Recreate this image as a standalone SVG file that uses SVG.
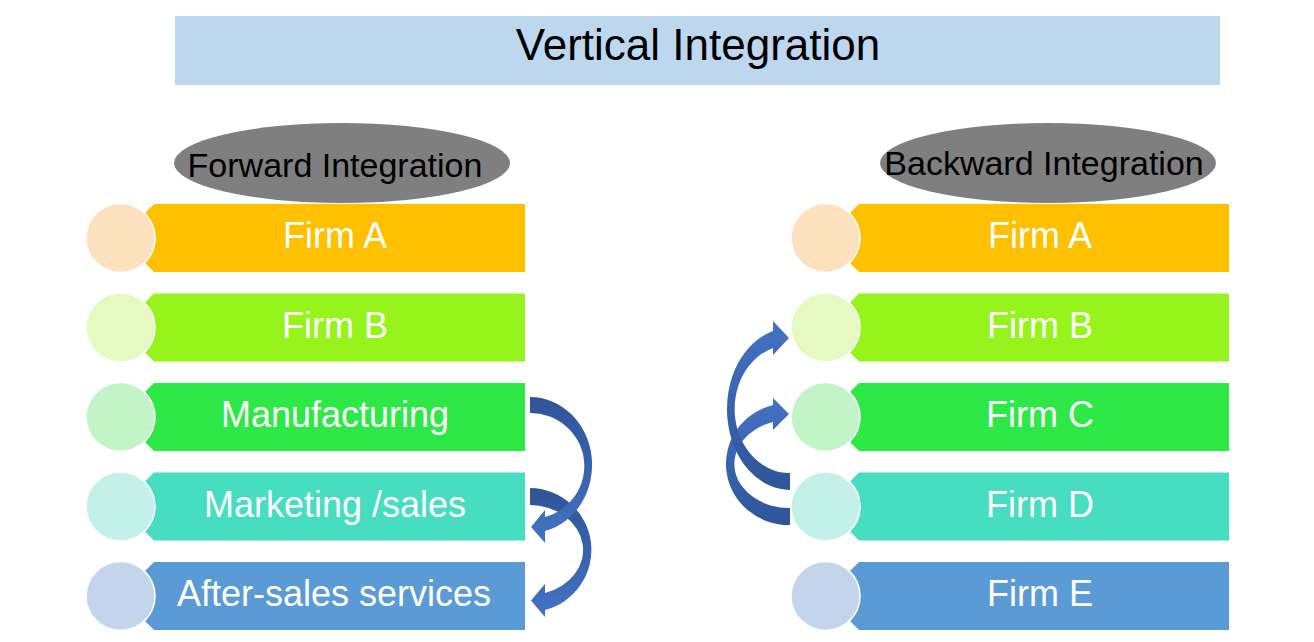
<svg xmlns="http://www.w3.org/2000/svg" width="1314" height="642" viewBox="0 0 1314 642">
<style>
.lbl{font-family:"Liberation Sans",Arial,sans-serif;font-size:36px;fill:#FFFFFF;text-anchor:middle}
.hdr{font-family:"Liberation Sans",Arial,sans-serif;font-size:34px;fill:#000000;text-anchor:middle}
.ttl{font-family:"Liberation Sans",Arial,sans-serif;font-size:44px;fill:#000000;text-anchor:middle}
.dot{stroke:#FFFFFF;stroke-width:1.5}
.oval{fill:#7F7F7F}
</style>
<defs>
<linearGradient id="gDown" x1="0" y1="0" x2="0" y2="1">
<stop offset="0" stop-color="#2F5597"/>
<stop offset="0.55" stop-color="#3A64B0"/>
<stop offset="1" stop-color="#4472C4"/>
</linearGradient>
<linearGradient id="gUp" x1="0" y1="1" x2="0" y2="0">
<stop offset="0" stop-color="#2F5597"/>
<stop offset="0.55" stop-color="#3A64B0"/>
<stop offset="1" stop-color="#4472C4"/>
</linearGradient>
</defs>
<rect width="1314" height="642" fill="#FFFFFF"/>

<g id="title">
<rect x="175" y="16" width="1045" height="69" fill="#BDD7EE"/>
<text class="ttl" x="698" y="60">Vertical Integration</text>
</g>

<g id="forward-header">
<ellipse class="oval" cx="342" cy="163" rx="168" ry="40"/>
<text class="hdr" x="335" y="177">Forward Integration</text>
</g>
<g id="backward-header">
<ellipse class="oval" cx="1048" cy="163" rx="168" ry="40"/>
<text class="hdr" x="1044" y="175">Backward Integration</text>
</g>

<!-- Left column -->
<g id="fwd-firm-a">
<polygon points="154,204 525,204 525,272 154,272 120,238" fill="#FFC000"/>
<circle class="dot" cx="120.5" cy="238" r="34.5" fill="#FDE0BE"/>
<text class="lbl" x="335" y="248">Firm A</text>
</g>
<g id="fwd-firm-b">
<polygon points="154,293.5 525,293.5 525,361.5 154,361.5 120,327.5" fill="#96F31C"/>
<circle class="dot" cx="120.5" cy="327.5" r="34.5" fill="#E6F9C0"/>
<text class="lbl" x="335" y="337.5">Firm B</text>
</g>
<g id="fwd-manufacturing">
<polygon points="154,383 525,383 525,451 154,451 120,417" fill="#2EE847"/>
<circle class="dot" cx="120.5" cy="417" r="34.5" fill="#C2F4C8"/>
<text class="lbl" x="335" y="427">Manufacturing</text>
</g>
<g id="fwd-marketing">
<polygon points="154,472.5 525,472.5 525,540.5 154,540.5 120,506.5" fill="#47DDC0"/>
<circle class="dot" cx="120.5" cy="506.5" r="34.5" fill="#C3F0E8"/>
<text class="lbl" x="335" y="516.5">Marketing /sales</text>
</g>
<g id="fwd-after-sales">
<polygon points="154,562 525,562 525,630 154,630 120,596" fill="#5B9BD5"/>
<circle class="dot" cx="120.5" cy="596" r="34.5" fill="#C4D5EB"/>
<text class="lbl" x="334" y="606">After-sales services</text>
</g>

<!-- Right column -->
<g id="bwd-firm-a">
<polygon points="859,204 1229,204 1229,272 859,272 825,238" fill="#FFC000"/>
<circle class="dot" cx="825.5" cy="238" r="34.5" fill="#FDE0BE"/>
<text class="lbl" x="1040" y="248">Firm A</text>
</g>
<g id="bwd-firm-b">
<polygon points="859,293.5 1229,293.5 1229,361.5 859,361.5 825,327.5" fill="#96F31C"/>
<circle class="dot" cx="825.5" cy="327.5" r="34.5" fill="#E6F9C0"/>
<text class="lbl" x="1040" y="337.5">Firm B</text>
</g>
<g id="bwd-firm-c">
<polygon points="859,383 1229,383 1229,451 859,451 825,417" fill="#2EE847"/>
<circle class="dot" cx="825.5" cy="417" r="34.5" fill="#C2F4C8"/>
<text class="lbl" x="1040" y="427">Firm C</text>
</g>
<g id="bwd-firm-d">
<polygon points="859,472.5 1229,472.5 1229,540.5 859,540.5 825,506.5" fill="#47DDC0"/>
<circle class="dot" cx="825.5" cy="506.5" r="34.5" fill="#C3F0E8"/>
<text class="lbl" x="1040" y="516.5">Firm D</text>
</g>
<g id="bwd-firm-e">
<polygon points="859,562 1229,562 1229,630 859,630 825,596" fill="#5B9BD5"/>
<circle class="dot" cx="825.5" cy="596" r="34.5" fill="#C4D5EB"/>
<text class="lbl" x="1040" y="606">Firm E</text>
</g>

<g id="connectors">
<path id="arrow-marketing-aftersales" fill="url(#gDown)" d="M530,488 A62,62 0 0 1 545,610 L545,617 L531,600.5 L545,584 L545,593 A54,45 0 0 0 530,505 Z"/>
<path id="arrow-manufacturing-marketing" fill="url(#gDown)" d="M530,397 A62,68 0 0 1 545,531 L545,543 L531,527 L545,510 L545,517 A54,53 0 0 0 530,413 Z"/>
<path id="arrow-d-to-c" fill="url(#gUp)" d="M790,525 A63,61 0 0 1 773,405 L773,398 L789,414 L773,430 L773,422 A55,44 0 0 0 790,508 Z"/>
<path id="arrow-d-to-b" fill="url(#gUp)" d="M790,490 A63,81 0 0 1 773,331 L773,321 L789,338 L773,355 L773,348 A55,64 0 0 0 790,473 Z"/>
</g>
</svg>
